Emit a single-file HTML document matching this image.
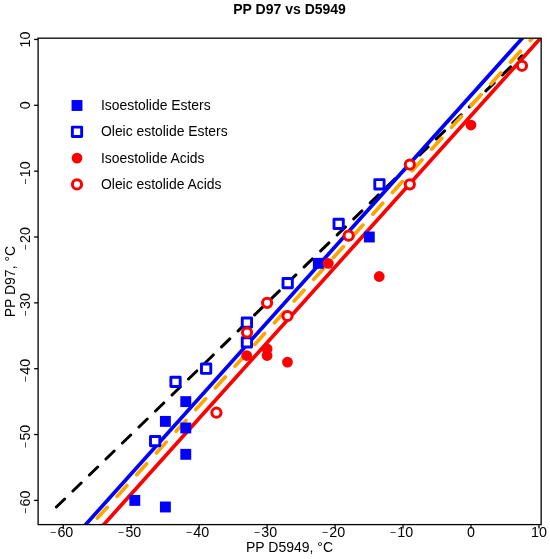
<!DOCTYPE html><html><head><meta charset="utf-8"><title>PP D97 vs D5949</title>
<style>html,body{margin:0;padding:0;background:#fff}svg{display:block}text{font-family:"Liberation Sans",Arial,sans-serif;fill:#000}</style></head><body>
<svg width="550" height="559" viewBox="0 0 550 559">
<rect width="550" height="559" fill="#fff"/>
<defs><clipPath id="c"><rect x="38.1" y="38.2" width="503.04999999999995" height="486.40000000000003"/></clipPath></defs>
<g clip-path="url(#c)" fill="none" stroke-linecap="round">
<line x1="56.38" y1="506.99" x2="521.98" y2="55.91" stroke="#000" stroke-width="3.0" stroke-dasharray="11.5 11.5"/>
<line x1="-4.79" y1="625.32" x2="606.94" y2="-56.10" stroke="#0000ff" stroke-width="3.7"/>
<line x1="-4.79" y1="645.49" x2="606.94" y2="-35.76" stroke="#ff0000" stroke-width="3.7"/>
<line x1="97.37" y1="518.11" x2="539.45" y2="30.29" stroke="#ffa500" stroke-width="3.7" stroke-dasharray="14.65 14.65"/>
</g>
<rect x="129.35" y="494.95" width="10.9" height="10.9" fill="#0000ff"/>
<rect x="159.94" y="501.54" width="10.9" height="10.9" fill="#0000ff"/>
<rect x="159.94" y="415.93" width="10.9" height="10.9" fill="#0000ff"/>
<rect x="180.33" y="396.18" width="10.9" height="10.9" fill="#0000ff"/>
<rect x="180.33" y="422.52" width="10.9" height="10.9" fill="#0000ff"/>
<rect x="180.33" y="448.86" width="10.9" height="10.9" fill="#0000ff"/>
<rect x="312.87" y="257.89" width="10.9" height="10.9" fill="#0000ff"/>
<rect x="363.85" y="231.55" width="10.9" height="10.9" fill="#0000ff"/>
<rect x="150.49" y="436.49" width="9.3" height="9.3" fill="#fff" stroke="#0000ff" stroke-width="2.9" stroke-linejoin="round"/>
<rect x="170.88" y="377.22" width="9.3" height="9.3" fill="#fff" stroke="#0000ff" stroke-width="2.9" stroke-linejoin="round"/>
<rect x="201.47" y="364.05" width="9.3" height="9.3" fill="#fff" stroke="#0000ff" stroke-width="2.9" stroke-linejoin="round"/>
<rect x="242.25" y="317.96" width="9.3" height="9.3" fill="#fff" stroke="#0000ff" stroke-width="2.9" stroke-linejoin="round"/>
<rect x="242.25" y="337.71" width="9.3" height="9.3" fill="#fff" stroke="#0000ff" stroke-width="2.9" stroke-linejoin="round"/>
<rect x="283.03" y="278.44" width="9.3" height="9.3" fill="#fff" stroke="#0000ff" stroke-width="2.9" stroke-linejoin="round"/>
<rect x="334.01" y="219.18" width="9.3" height="9.3" fill="#fff" stroke="#0000ff" stroke-width="2.9" stroke-linejoin="round"/>
<rect x="374.79" y="179.67" width="9.3" height="9.3" fill="#fff" stroke="#0000ff" stroke-width="2.9" stroke-linejoin="round"/>
<circle cx="246.70" cy="355.53" r="5.4" fill="#ff0000"/>
<circle cx="267.09" cy="348.94" r="5.4" fill="#ff0000"/>
<circle cx="267.09" cy="355.53" r="5.4" fill="#ff0000"/>
<circle cx="287.48" cy="362.12" r="5.4" fill="#ff0000"/>
<circle cx="328.26" cy="263.34" r="5.4" fill="#ff0000"/>
<circle cx="379.24" cy="276.51" r="5.4" fill="#ff0000"/>
<circle cx="471.00" cy="125.05" r="5.4" fill="#ff0000"/>
<circle cx="216.45" cy="412.69" r="4.6" fill="#fff" stroke="#ff0000" stroke-width="3"/>
<circle cx="247.04" cy="332.48" r="4.6" fill="#fff" stroke="#ff0000" stroke-width="3"/>
<circle cx="267.09" cy="302.85" r="4.6" fill="#fff" stroke="#ff0000" stroke-width="3"/>
<circle cx="287.48" cy="316.02" r="4.6" fill="#fff" stroke="#ff0000" stroke-width="3"/>
<circle cx="348.65" cy="235.68" r="4.6" fill="#fff" stroke="#ff0000" stroke-width="3"/>
<circle cx="409.83" cy="164.56" r="4.6" fill="#fff" stroke="#ff0000" stroke-width="3"/>
<circle cx="409.83" cy="184.32" r="4.6" fill="#fff" stroke="#ff0000" stroke-width="3"/>
<circle cx="521.98" cy="65.79" r="4.6" fill="#fff" stroke="#ff0000" stroke-width="3"/>
<rect x="38.1" y="38.2" width="503.04999999999995" height="486.40000000000003" fill="none" stroke="#000" stroke-width="1.3"/>
<line x1="63.18" y1="524.6" x2="63.18" y2="528.6" stroke="#000" stroke-width="1.3"/>
<text x="49.88" y="537" font-size="14.3" text-anchor="start"><tspan font-size="10.5" dy="-1.2">−</tspan><tspan dx="1.4" dy="1.2">60</tspan></text>
<line x1="131.15" y1="524.6" x2="131.15" y2="528.6" stroke="#000" stroke-width="1.3"/>
<text x="117.85" y="537" font-size="14.3" text-anchor="start"><tspan font-size="10.5" dy="-1.2">−</tspan><tspan dx="1.4" dy="1.2">50</tspan></text>
<line x1="199.12" y1="524.6" x2="199.12" y2="528.6" stroke="#000" stroke-width="1.3"/>
<text x="185.82" y="537" font-size="14.3" text-anchor="start"><tspan font-size="10.5" dy="-1.2">−</tspan><tspan dx="1.4" dy="1.2">40</tspan></text>
<line x1="267.09" y1="524.6" x2="267.09" y2="528.6" stroke="#000" stroke-width="1.3"/>
<text x="253.79" y="537" font-size="14.3" text-anchor="start"><tspan font-size="10.5" dy="-1.2">−</tspan><tspan dx="1.4" dy="1.2">30</tspan></text>
<line x1="335.06" y1="524.6" x2="335.06" y2="528.6" stroke="#000" stroke-width="1.3"/>
<text x="321.76" y="537" font-size="14.3" text-anchor="start"><tspan font-size="10.5" dy="-1.2">−</tspan><tspan dx="1.4" dy="1.2">20</tspan></text>
<line x1="403.03" y1="524.6" x2="403.03" y2="528.6" stroke="#000" stroke-width="1.3"/>
<text x="389.73" y="537" font-size="14.3" text-anchor="start"><tspan font-size="10.5" dy="-1.2">−</tspan><tspan dx="1.4" dy="1.2">10</tspan></text>
<line x1="471.00" y1="524.6" x2="471.00" y2="528.6" stroke="#000" stroke-width="1.3"/>
<text x="471.00" y="537" font-size="14.3" text-anchor="middle">0</text>
<line x1="538.97" y1="524.6" x2="538.97" y2="528.6" stroke="#000" stroke-width="1.3"/>
<text x="538.97" y="537" font-size="14.3" text-anchor="middle">10</text>
<line x1="34.1" y1="500.40" x2="38.1" y2="500.40" stroke="#000" stroke-width="1.3"/>
<text transform="translate(30,514.00) rotate(-90)" font-size="14.3" text-anchor="start"><tspan font-size="10.5" dy="-1.2">−</tspan><tspan dx="1.4" dy="1.2">60</tspan></text>
<line x1="34.1" y1="434.55" x2="38.1" y2="434.55" stroke="#000" stroke-width="1.3"/>
<text transform="translate(30,448.15) rotate(-90)" font-size="14.3" text-anchor="start"><tspan font-size="10.5" dy="-1.2">−</tspan><tspan dx="1.4" dy="1.2">50</tspan></text>
<line x1="34.1" y1="368.70" x2="38.1" y2="368.70" stroke="#000" stroke-width="1.3"/>
<text transform="translate(30,382.30) rotate(-90)" font-size="14.3" text-anchor="start"><tspan font-size="10.5" dy="-1.2">−</tspan><tspan dx="1.4" dy="1.2">40</tspan></text>
<line x1="34.1" y1="302.85" x2="38.1" y2="302.85" stroke="#000" stroke-width="1.3"/>
<text transform="translate(30,316.45) rotate(-90)" font-size="14.3" text-anchor="start"><tspan font-size="10.5" dy="-1.2">−</tspan><tspan dx="1.4" dy="1.2">30</tspan></text>
<line x1="34.1" y1="237.00" x2="38.1" y2="237.00" stroke="#000" stroke-width="1.3"/>
<text transform="translate(30,250.60) rotate(-90)" font-size="14.3" text-anchor="start"><tspan font-size="10.5" dy="-1.2">−</tspan><tspan dx="1.4" dy="1.2">20</tspan></text>
<line x1="34.1" y1="171.15" x2="38.1" y2="171.15" stroke="#000" stroke-width="1.3"/>
<text transform="translate(30,184.75) rotate(-90)" font-size="14.3" text-anchor="start"><tspan font-size="10.5" dy="-1.2">−</tspan><tspan dx="1.4" dy="1.2">10</tspan></text>
<line x1="34.1" y1="105.30" x2="38.1" y2="105.30" stroke="#000" stroke-width="1.3"/>
<text transform="translate(30,105.30) rotate(-90)" font-size="14.3" text-anchor="middle">0</text>
<line x1="34.1" y1="39.45" x2="38.1" y2="39.45" stroke="#000" stroke-width="1.3"/>
<text transform="translate(30,39.45) rotate(-90)" font-size="14.3" text-anchor="middle">10</text>
<text x="289.6" y="14" font-size="14" font-weight="bold" text-anchor="middle">PP D97 vs D5949</text>
<text x="289.5" y="552" font-size="14" text-anchor="middle">PP D5949, °C</text>
<text transform="translate(14.7,281.6) rotate(-90)" font-size="14" text-anchor="middle">PP D97, °C</text>
<rect x="71.55" y="100.05" width="10.9" height="10.9" fill="#0000ff"/>
<rect x="72.35" y="127.15" width="9.3" height="9.3" fill="#fff" stroke="#0000ff" stroke-width="2.9" stroke-linejoin="round"/>
<circle cx="77.0" cy="158.1" r="5.4" fill="#ff0000"/>
<circle cx="77.0" cy="184.4" r="4.6" fill="#fff" stroke="#ff0000" stroke-width="3"/>
<text x="101" y="109.90" font-size="13.9">Isoestolide Esters</text>
<text x="101" y="136.20" font-size="13.9">Oleic estolide Esters</text>
<text x="101" y="162.50" font-size="13.9">Isoestolide Acids</text>
<text x="101" y="188.80" font-size="13.9">Oleic estolide Acids</text>
</svg></body></html>
